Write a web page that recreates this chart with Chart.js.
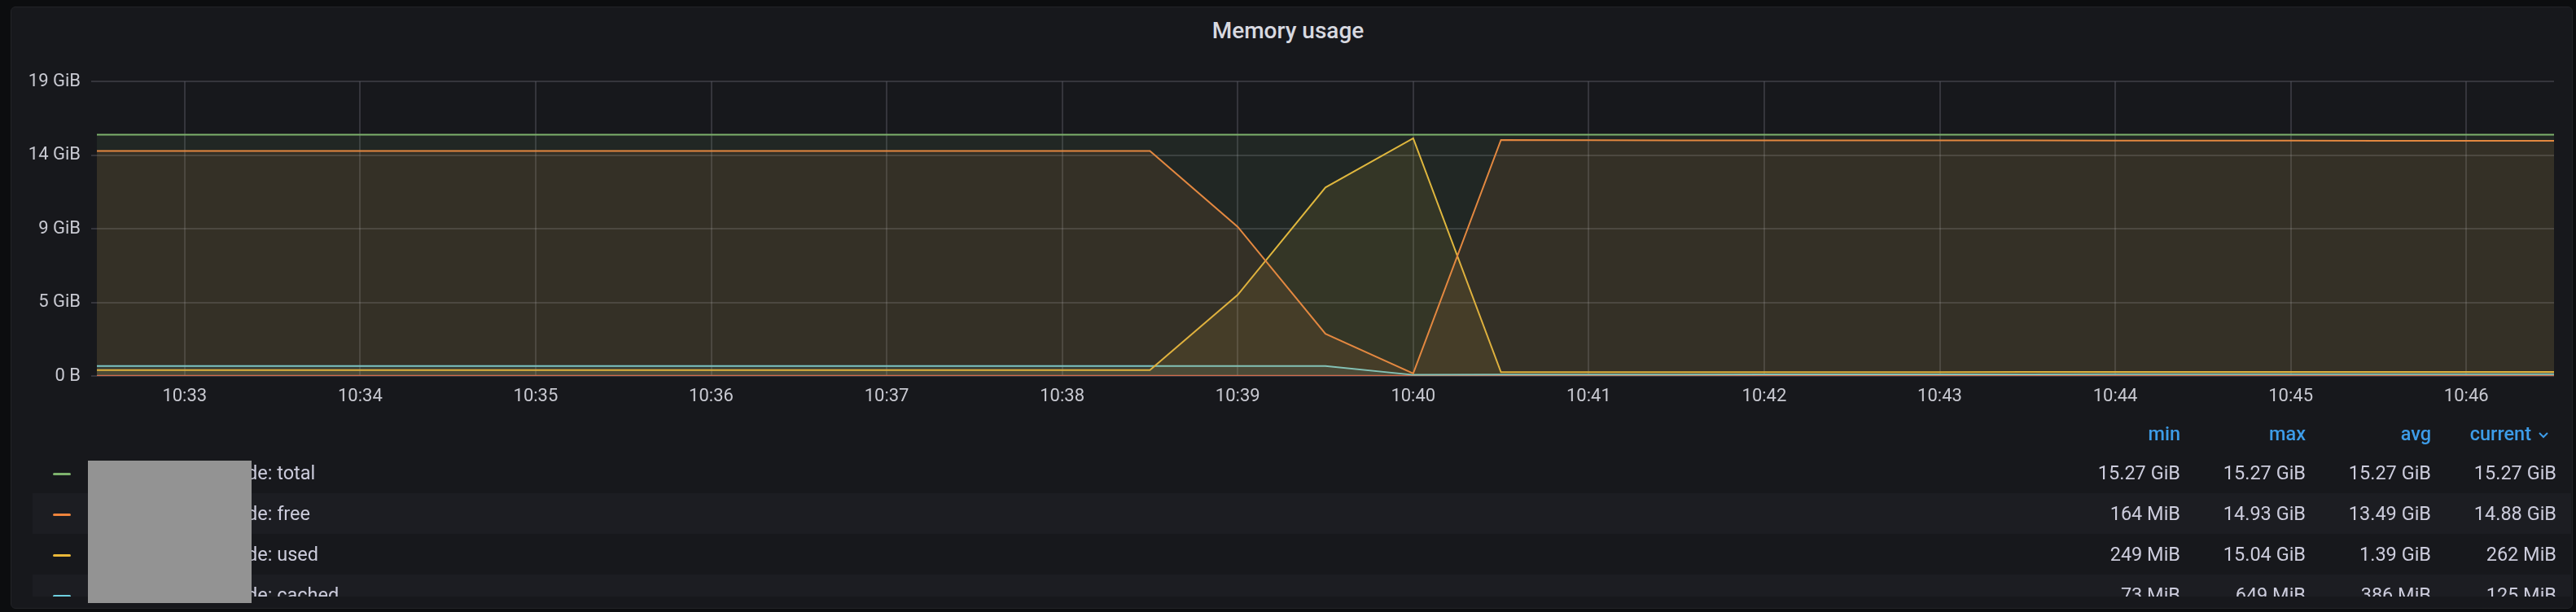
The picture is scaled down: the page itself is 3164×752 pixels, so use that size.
<!DOCTYPE html>
<html>
<head>
<meta charset="utf-8">
<script src="https://cdn.jsdelivr.net/npm/chart.js@4.4.0/dist/chart.umd.min.js"></script>
<style>
  html, body { margin: 0; padding: 0; }
  body { width: 3164px; height: 752px; background: #0c0d0f; position: relative; overflow: hidden;
         font-family: Roboto, "Noto Sans", sans-serif; color: #ccccdc; }
  #panel { position: absolute; left: 13px; top: 8px; width: 3147px; height: 740px;
           background: #17181c; border: 1px solid #222327; border-radius: 6px; box-sizing: border-box; }
  #title { position: absolute; left: 13px; width: 3138px; top: 20px; text-align: center;
           font-size: 28px; font-weight: 500; color: #d8d9e0; line-height: 36px; }
  #chart { position: absolute; left: 0; top: 74px; }
  #legend { position: absolute; left: 40px; top: 510px; width: 3118px; height: 223px; overflow: hidden; }
  #legend table { border-collapse: collapse; width: 100%; font-size: 23.5px; }
  #legend td, #legend th { height: 50px; padding: 0; white-space: nowrap; }
  #legend th { font-weight: 500; color: #3d9ce8; text-align: right; height: 46px; }
  #legend td.v { text-align: right; width: 154px; }
  #legend td.last { padding-right: 18px; }
  #legend th.last { padding-right: 27px; }
  #legend tr.alt { background: #1c1d22; }
  .swatch { display: inline-block; width: 22px; height: 3px; border-radius: 2px; margin: 0 20px 0 25px; vertical-align: middle; }
  #redact { position: absolute; left: 108px; top: 566px; width: 201px; height: 175px; background: #939393; }
</style>
</head>
<body>
<div id="panel"></div>
<div id="title">Memory usage</div>
<canvas id="chart" width="3164" height="446" style="width:3164px;height:446px"></canvas>
<div id="legend"><table id="legendTable"></table></div>
<div id="redact"></div>
<script>
// sample times (every 30 s)
const times = ['10:32:30','10:33:00','10:33:30','10:34:00','10:34:30','10:35:00','10:35:30','10:36:00',
  '10:36:30','10:37:00','10:37:30','10:38:00','10:38:30','10:39:00','10:39:30','10:40:00','10:40:30',
  '10:41:00','10:41:30','10:42:00','10:42:30','10:43:00','10:43:30','10:44:00','10:44:30','10:45:00',
  '10:45:30','10:46:00','10:46:30']

// values in GiB
const total = [15.27,15.27,15.27,15.27,15.27,15.27,15.27,15.27,15.27,15.27,15.27,15.27,15.27,15.27,15.27,
  15.27,15.27,15.27,15.27,15.27,15.27,15.27,15.27,15.27,15.27,15.27,15.27,15.27,15.27]
const free = [14.24,14.24,14.24,14.24,14.24,14.24,14.24,14.24,14.24,14.24,14.24,14.24,14.24,9.44,2.67,
  0.16,14.93,14.92,14.91,14.91,14.90,14.90,14.90,14.89,14.89,14.89,14.88,14.88,14.88]
const used = [0.37,0.37,0.37,0.37,0.37,0.37,0.37,0.37,0.37,0.37,0.37,0.37,0.37,5.13,11.93,
  15.04,0.243,0.245,0.247,0.248,0.249,0.25,0.251,0.252,0.253,0.254,0.255,0.255,0.256]
const cached = [0.63,0.63,0.63,0.63,0.63,0.63,0.63,0.63,0.63,0.63,0.63,0.63,0.63,0.63,0.63,
  0.071,0.085,0.09,0.094,0.098,0.101,0.104,0.107,0.11,0.113,0.116,0.118,0.12,0.122]
const buffers = [0.01,0.01,0.01,0.01,0.01,0.01,0.01,0.01,0.01,0.01,0.01,0.01,0.01,0.01,0.01,
  0.01,0.01,0.01,0.01,0.01,0.01,0.01,0.01,0.01,0.01,0.01,0.01,0.01,0.01]

const seriesNames = ['ip-172-31-45-10 node: total','ip-172-31-45-10 node: free',
  'ip-172-31-45-10 node: used','ip-172-31-45-10 node: cached','ip-172-31-45-10 node: buffers']
const seriesColors = ['#7EB26D','#EF843C','#EAB839','#6ED0E0','#E24D42']

// legend stats as shown
const statMin = ['15.27 GiB','164 MiB','249 MiB','73 MiB']
const statMax = ['15.27 GiB','14.93 GiB','15.04 GiB','649 MiB']
const statAvg = ['15.27 GiB','13.49 GiB','1.39 GiB','386 MiB']
const statCur = ['15.27 GiB','14.88 GiB','262 MiB','125 MiB']

// axis ticks
const xTicks = ['10:33','10:34','10:35','10:36','10:37','10:38','10:39','10:40','10:41','10:42','10:43','10:44','10:45','10:46']
const yTickBytes = [0, 5e9, 10e9, 15e9, 20e9]
const yTickLabels = ['0 B','5 GiB','9 GiB','14 GiB','19 GiB']

const GiB = 1073741824
const toMin = (t) => {
    const p = t.split(':').map(Number)
    return (p[0] - 10) * 60 + p[1] + (p[2] || 0) / 60
}
const hexA = (hex, a) => {
    const n = parseInt(hex.slice(1), 16)
    return 'rgba(' + (n >> 16) + ',' + ((n >> 8) & 255) + ',' + (n & 255) + ',' + a + ')'
}

const allSeries = [total, free, used, cached, buffers]
const datasets = allSeries.map((vals, i) => ({
    label: seriesNames[i],
    data: vals.map((v, j) => ({ x: toMin(times[j]), y: v })),
    borderColor: seriesColors[i],
    backgroundColor: hexA(seriesColors[i], 0.1),
    borderWidth: 2,
    pointRadius: 0,
    tension: 0,
    fill: 'origin'
}))

const tickFont = { family: 'Roboto', size: 22 }
const gridColor = 'rgba(204,204,220,0.17)'

const ctx = document.getElementById('chart').getContext('2d')
const memChart = new Chart(ctx, {
    type: 'line',
    data: { datasets: datasets },
    options: {
        responsive: false,
        animation: false,
        devicePixelRatio: 1,
        layout: { padding: { top: 0, right: 27, left: 0, bottom: 0 } },
        plugins: { legend: { display: false }, tooltip: { enabled: false } },
        scales: {
            x: {
                type: 'linear',
                min: toMin(times[0]),
                max: toMin(times[times.length - 1]),
                border: { display: false },
                grid: { color: gridColor, drawTicks: false, lineWidth: 2 },
                afterBuildTicks: (scale) => { scale.ticks = xTicks.map(t => ({ value: toMin(t) })) },
                afterFit: (scale) => { scale.height = 58 },
                ticks: {
                    padding: 12,
                    color: '#c8c9d1',
                    font: tickFont,
                    maxRotation: 0,
                    autoSkip: false,
                    callback: (v, i) => xTicks[i]
                }
            },
            y: {
                min: 0,
                max: yTickBytes[yTickBytes.length - 1] / GiB,
                border: { display: false },
                grid: { color: gridColor, tickLength: 7, lineWidth: 2 },
                afterBuildTicks: (scale) => { scale.ticks = yTickBytes.map(b => ({ value: b / GiB })) },
                afterFit: (scale) => { scale.width = 119 },
                ticks: {
                    padding: 13,
                    color: '#c8c9d1',
                    font: tickFont,
                    callback: (v, i) => yTickLabels[i]
                }
            }
        }
    }
})

// legend table
const chevron = '<svg width="14" height="10" viewBox="0 0 14 10" style="margin-left:8px;vertical-align:middle">' +
    '<path d="M2 2 L7 7 L12 2" stroke="#3d9ce8" stroke-width="2" fill="none"/></svg>'
let html = '<tr><th style="text-align:left"></th><th>min</th><th>max</th><th>avg</th><th class="last">current' + chevron + '</th></tr>'
statMin.forEach((m, i) => {
    html += '<tr' + (i % 2 === 1 ? ' class="alt"' : '') + '>' +
        '<td><span class="swatch" style="background:' + seriesColors[i] + '"></span>' + seriesNames[i] + '</td>' +
        '<td class="v">' + m + '</td><td class="v">' + statMax[i] + '</td><td class="v">' + statAvg[i] +
        '</td><td class="v last">' + statCur[i] + '</td></tr>'
})
document.getElementById('legendTable').innerHTML = html
</script>
</body>
</html>
